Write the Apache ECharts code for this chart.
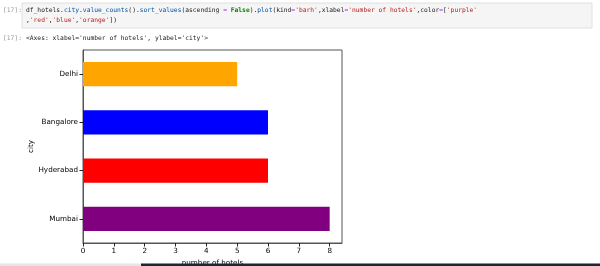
<!DOCTYPE html>
<html><head><meta charset="utf-8">
<script src="https://cdn.jsdelivr.net/npm/echarts@6/dist/echarts.min.js"></script>
<style>html,body{margin:0;padding:0;background:#fff}#c{width:600px;height:266px}</style>
</head><body><div id="c"></div>
<script>
const categories = ['Mumbai', 'Hyderabad', 'Bangalore', 'Delhi'];
const hotelCounts = [8, 6, 6, 5];
const barColors = ['purple', 'red', 'blue', 'orange'];
const xTicks = [0, 1, 2, 3, 4, 5, 6, 7, 8];

const chart = echarts.init(document.getElementById('c'), null, {renderer: 'canvas'});
const mono = 'DejaVu Sans Mono';
const codeFs = 6.3;
const lblFs = 7.2;
chart.setOption({
  animation: false,
  backgroundColor: '#fff',
  grid: {left: 83, right: 258, top: 50, bottom: 23, outerBoundsMode: 'none', containLabel: false,
    show: true, borderColor: '#555', borderWidth: 1, backgroundColor: 'transparent'},
  xAxis: {
    type: 'value', min: 0, max: 8.4, interval: 1,
    name: 'number of hotels', nameLocation: 'middle', nameGap: 16,
    nameTextStyle: {fontFamily: 'DejaVu Sans', fontSize: lblFs, color: '#000'},
    axisLine: {show: true, lineStyle: {color: '#555'}},
    axisTick: {show: true, length: 3.5, lineStyle: {color: '#222'}},
    axisLabel: {showMaxLabel: false, fontFamily: 'DejaVu Sans', fontSize: lblFs, color: '#000', margin: 5,
      formatter: v => xTicks.includes(v) ? String(v) : ''},
    splitLine: {show: false}
  },
  yAxis: {
    type: 'category', data: categories,
    name: 'city', nameLocation: 'middle', nameGap: 46,
    nameTextStyle: {fontFamily: 'DejaVu Sans', fontSize: lblFs, color: '#000'},
    axisLine: {show: true, lineStyle: {color: '#555'}},
    axisTick: {show: true, alignWithLabel: true, length: 3.5, lineStyle: {color: '#222'}},
    axisLabel: {fontFamily: 'DejaVu Sans', fontSize: lblFs, color: '#000', margin: 5}
  },
  series: [{
    type: 'bar', barWidth: '50%',
    data: hotelCounts.map((v, i) => ({value: v, itemStyle: {color: barColors[i]}}))
  }],
  graphic: [
    {type: 'rect', shape: {x: 22, y: 3, width: 570, height: 25}, style: {fill: '#f5f5f5', stroke: '#e0e0e0', lineWidth: 1}, silent: true},
    {type: 'text', left: 3, top: 7, style: {text: '[17]:', font: codeFs + 'px ' + mono, fill: '#999'}},
    {type: 'text', left: 3, top: 35, style: {text: '[17]:', font: codeFs + 'px ' + mono, fill: '#999'}},
    {type: 'text', left: 26, top: 7, style: {
      text: '{k|df_hotels.}{p|city}{k|.}{p|value_counts}{k|().}{p|sort_values}{k|(ascending }{o|=}{k| }{g|False}{k|).}{p|plot}{k|(kind}{o|=}{s|\'barh\'}{k|,xlabel}{o|=}{s|\'number of hotels\'}{k|,color}{o|=}{k|[}{s|\'purple\'}',
      font: codeFs + 'px ' + mono,
      rich: {
        k: {fill: '#222', font: codeFs + 'px ' + mono},
        p: {fill: '#05a', font: codeFs + 'px ' + mono},
        o: {fill: '#a2f', font: codeFs + 'px ' + mono},
        g: {fill: '#008000', font: 'bold ' + codeFs + 'px ' + mono},
        s: {fill: '#ba2121', font: codeFs + 'px ' + mono}
      }
    }},
    {type: 'text', left: 26, top: 17, style: {
      text: '{k|,}{s|\'red\'}{k|,}{s|\'blue\'}{k|,}{s|\'orange\'}{k|])}',
      font: codeFs + 'px ' + mono,
      rich: {
        k: {fill: '#222', font: codeFs + 'px ' + mono},
        s: {fill: '#ba2121', font: codeFs + 'px ' + mono}
      }
    }},
    {type: 'text', left: 26, top: 35, style: {text: "<Axes: xlabel='number of hotels', ylabel='city'>", font: codeFs + 'px ' + mono, fill: '#222'}},
    {type: 'rect', shape: {x: 0, y: 263.5, width: 141, height: 3}, style: {fill: '#e6e6e6'}, silent: true, z: 100},
    {type: 'rect', shape: {x: 141, y: 263.5, width: 459, height: 3}, style: {fill: '#1c2633'}, silent: true, z: 100}
  ]
});
</script></body></html>
